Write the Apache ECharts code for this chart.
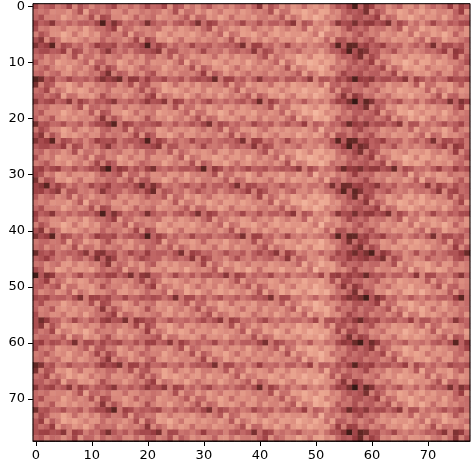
<!DOCTYPE html><html><head><meta charset="utf-8"><script src="https://cdn.jsdelivr.net/npm/echarts@6/dist/echarts.min.js"></script>
<style>html,body{margin:0;padding:0;background:#fff}#c{width:474px;height:466px}</style></head><body><div id="c"></div><script>
// Estimated per-row darkness (0 light .. 1 dark), read from the image bands
const rowLevels=[0.4,0.3,0.3,0.5,0.3,0.25,0.3,0.5,0.45,0.3,0.25,0.3,0.35,0.55,0.3,0.25,0.3,0.5,0.3,0.25,0.3,0.5,0.3,0.3,0.5,0.45,0.3,0.25,0.3,0.55,0.3,0.3,0.5,0.45,0.3,0.25,0.3,0.5,0.3,0.25,0.3,0.5,0.3,0.3,0.5,0.45,0.3,0.25,0.5,0.3,0.3,0.25,0.5,0.3,0.3,0.3,0.5,0.3,0.25,0.3,0.5,0.3,0.3,0.3,0.5,0.3,0.25,0.3,0.5,0.3,0.3,0.3,0.5,0.3,0.25,0.3,0.5,0.35];
// Estimated per-column darkness
const colLevels=[0.4,0.35,0.3,0.3,0.2,0.15,0.15,0.2,0.2,0.15,0.2,0.25,0.35,0.35,0.3,0.2,0.2,0.2,0.25,0.25,0.35,0.3,0.2,0.15,0.15,0.2,0.2,0.15,0.2,0.2,0.25,0.2,0.2,0.15,0.15,0.2,0.2,0.2,0.15,0.2,0.25,0.2,0.2,0.15,0.15,0.2,0.15,0.1,0.1,0.1,0.05,0.05,0.1,0.2,0.3,0.35,0.4,0.45,0.4,0.4,0.35,0.3,0.25,0.2,0.2,0.15,0.1,0.1,0.15,0.1,0.15,0.2,0.2,0.15,0.2,0.3,0.3,0.25];
// Estimated per-cell texture offsets (repeating short sequence)
const texture=[0.05,-0.1,0.15,-0.03,0.0,-0.12,0.18,-0.05,0.1,-0.14,0.02,0.12,-0.07,0.3,-0.02,0.08,-0.1];
const xCats=colLevels.map((_,i)=>String(i)), yCats=rowLevels.map((_,i)=>String(i));
const data=[];
for(let r=0;r<rowLevels.length;r++)for(let c=0;c<colLevels.length;c++){
 data.push([c,r,rowLevels[r]+colLevels[c]+texture[(r*7+c*5)%texture.length]]);
}
const ch=echarts.init(document.getElementById('c'));
const ax=(inv)=>({type:'category',inverse:inv,boundaryGap:true,axisLine:{show:true,lineStyle:{color:'#000'}},
 axisTick:{show:true,inside:false,alignWithLabel:true,interval:9,length:5,lineStyle:{color:'#000',width:1}},
 axisLabel:{interval:9,color:'#000',fontSize:13,fontFamily:'DejaVu Sans'},splitLine:{show:false}});
ch.setOption({animation:false,
 grid:{left:33,right:4,top:3,bottom:25,show:true,borderColor:'#000',borderWidth:1,z:5},
 xAxis:Object.assign(ax(false),{data:xCats}),
 yAxis:Object.assign(ax(true),{data:yCats}),
 visualMap:{show:false,min:0.1,max:1.3,inRange:{color:['#f7bea6','#eba690','#d8887c','#bd6262','#983c40','#5a2420','#2a1410']}},
 series:[{type:'heatmap',data:data,itemStyle:{borderWidth:0}}]});
</script></body></html>
